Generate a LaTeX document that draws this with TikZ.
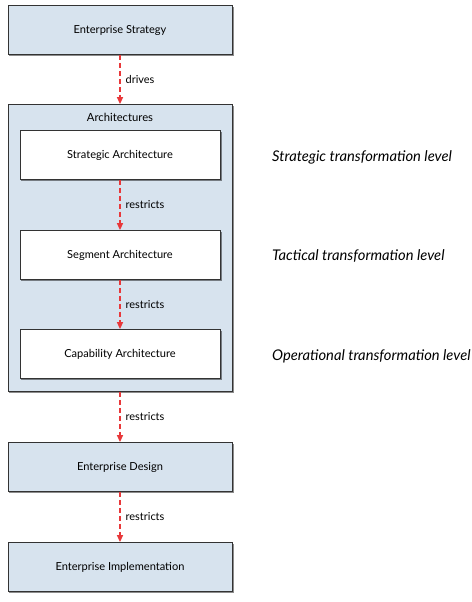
\documentclass[tikz,border=0pt]{standalone}
\usepackage{fontspec}
\setmainfont{Lato}
\usetikzlibrary{shadows,arrows.meta}
\definecolor{boxblue}{HTML}{D7E3EE}
\definecolor{arrred}{HTML}{E8383A}
\tikzset{
  x=1bp, y=-1bp,
  shad/.style={drop shadow={shadow xshift=1.5bp, shadow yshift=-1.5bp, opacity=0.45, fill=black}},
  bluebox/.style={draw=black!80, line width=0.8bp, fill=boxblue, shad, minimum width=224bp, minimum height=49bp, font=\fontsize{11.1}{13}\selectfont, inner sep=0pt},
  whitebox/.style={draw=black!80, line width=0.8bp, fill=white, shad, minimum width=200bp, minimum height=49bp, font=\fontsize{11.1}{13}\selectfont, inner sep=0pt},
  rel/.style={draw=arrred, line width=1.3bp, dash pattern=on 5bp off 3bp, -{Triangle[width=6bp,length=7bp]}},
  rellabel/.style={font=\fontsize{11}{13}\selectfont, anchor=west, inner sep=0pt},
  levellabel/.style={font=\fontsize{14.8}{17}\selectfont\itshape, anchor=west, inner sep=0pt}
}
\begin{document}
\begin{tikzpicture}
\useasboundingbox (0,0) rectangle (472,602);
\node[bluebox] (strategy) at (120,30) {Enterprise Strategy};
\node[bluebox, minimum height=287bp] (arch) at (120,248) {};
\node[font=\fontsize{11.3}{13}\selectfont] (archtitle) at (120,117) {Architectures};
\node[whitebox] (strat) at (120,155) {Strategic Architecture};
\node[whitebox] (seg) at (120,255) {Segment Architecture};
\node[whitebox] (cap) at (120,354) {Capability Architecture};
\node[bluebox] (design) at (120,467) {Enterprise Design};
\node[bluebox] (impl) at (120,567) {Enterprise Implementation};

\draw[rel] (strategy.south) -- (arch.north) node[midway, rellabel, xshift=5bp] {drives};
\draw[rel] (strat.south) -- (seg.north) node[midway, rellabel, xshift=5bp] {restricts};
\draw[rel] (seg.south) -- (cap.north) node[midway, rellabel, xshift=5bp] {restricts};
\draw[rel] (arch.south) -- (design.north) node[midway, rellabel, xshift=5bp] {restricts};
\draw[rel] (design.south) -- (impl.north) node[midway, rellabel, xshift=5bp] {restricts};

\node[levellabel] (l1) at (272,157) {Strategic transformation level};
\node[levellabel] (l2) at (272,256) {Tactical transformation level};
\node[levellabel] (l3) at (272,356) {Operational transformation level};
\end{tikzpicture}
\end{document}
